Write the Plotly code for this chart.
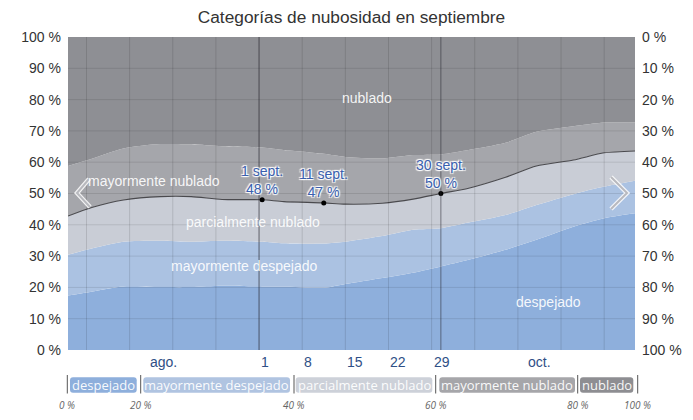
import numpy as np
import pandas as pd
import plotly.graph_objects as go

# ---------------- data ----------------
dates = ["2024-08-01", "2024-08-05", "2024-08-10", "2024-08-16", "2024-08-21",
         "2024-08-26", "2024-09-01 12:00", "2024-09-05", "2024-09-11 12:00",
         "2024-09-15", "2024-09-21", "2024-09-26", "2024-09-30 12:00",
         "2024-10-05", "2024-10-11", "2024-10-16", "2024-10-22", "2024-10-27",
         "2024-11-01"]

despejado = [17.4, 18.7, 20.3, 20.1, 20.1, 20.5, 20.3, 20.3, 19.9, 21.1, 23.0,
             24.7, 26.7, 28.8, 32.0, 35.2, 39.4, 42.1, 43.7]
mayormente_despejado = [13.0, 13.8, 14.3, 14.8, 14.5, 14.4, 14.3, 13.8, 14.1,
                        13.5, 13.4, 13.7, 12.2, 11.9, 11.1, 11.1, 10.4, 10.1, 10.4]
parcialmente_nublado = [12.4, 13.1, 13.3, 14.1, 14.4, 13.2, 13.4, 13.3, 13.0,
                        12.0, 10.5, 9.8, 11.1, 11.0, 12.1, 12.5, 10.9, 10.8, 9.5]
mayormente_nublado = [16.0, 15.6, 16.5, 16.8, 16.7, 17.0, 16.7, 16.5, 15.7, 15.1,
                      14.3, 14.1, 12.5, 12.2, 11.0, 10.9, 10.8, 9.7, 9.1]
nublado = [41.2, 38.8, 35.6, 34.2, 34.3, 34.9, 35.3, 36.1, 37.3, 38.3, 38.8,
           37.7, 37.5, 36.1, 33.8, 30.3, 28.5, 27.3, 27.3]

categories = ["despejado", "mayormente despejado", "parcialmente nublado",
              "mayormente nublado", "nublado"]
series = [despejado, mayormente_despejado, parcialmente_nublado,
          mayormente_nublado, nublado]

marker_dates = ["2024-09-01 12:00", "2024-09-11 12:00", "2024-09-30 12:00"]
marker_values = [48, 47, 50]
marker_labels = ["1 sept.", "11 sept.", "30 sept."]

y_ticks = list(range(0, 101, 10))
y_left_text = [f"{v} %" for v in y_ticks]
y_right_text = [f"{100 - v} %" for v in y_ticks]

day_tick_dates = ["2024-09-01", "2024-09-08", "2024-09-15", "2024-09-22", "2024-09-29"]
day_tick_text = ["1", "8", "15", "22", "29"]
month_tick_dates = ["2024-08-16 12:00", "2024-10-16 12:00"]
month_tick_text = ["ago.", "oct."]

legend_pct_text = ["0 %", "20 %", "40 %", "60 %", "80 %", "100 %"]

area_label_text = ["nublado", "mayormente nublado", "parcialmente nublado",
                   "mayormente despejado", "despejado"]
area_label_x = ["2024-09-18 12:00", "2024-08-14 22:00", "2024-08-31", "2024-08-29 14:00",
                "2024-10-18"]
area_label_y = [80.4, 54.1, 41.0, 26.9, 15.4]

# ---------------- styles ----------------
fill_colors = ["#8eafdc", "#abc2e2", "#c9cdd6", "#a5a6ab", "#8e8f94"]
legend_colors = ["#8eafdc", "#b0c4e1", "#cdd1d9", "#a6a6aa", "#8e8e92"]

W, H = 693, 420
L, R, T, B = 68, 58, 37, 70
PW, PH = W - L - R, H - T - B


def px(x):
    return (x - L) / PW


def py(y):
    return (H - B - y) / PH


fig = go.Figure()

for name, vals, col in zip(categories, series, fill_colors):
    fig.add_trace(go.Scatter(
        x=dates, y=vals, stackgroup="one", mode="lines",
        line=dict(width=0, color=col, shape="spline", smoothing=0.7),
        fillcolor=col, name=name, hoverinfo="skip", showlegend=False))

boundary = np.array(despejado) + np.array(mayormente_despejado) + np.array(parcialmente_nublado)
fig.add_trace(go.Scatter(x=dates, y=boundary, mode="lines",
                         line=dict(color="#4a4a4e", width=1.1, shape="spline", smoothing=0.7),
                         hoverinfo="skip", showlegend=False))

fig.add_trace(go.Scatter(x=marker_dates, y=marker_values, mode="markers",
                         marker=dict(color="black", size=5),
                         hoverinfo="skip", showlegend=False))

# dummy trace for right axis
fig.add_trace(go.Scatter(x=[dates[0]], y=[0], yaxis="y2", mode="markers",
                         marker=dict(opacity=0), hoverinfo="skip", showlegend=False))

shapes = []
for v in y_ticks[1:-1]:
    shapes.append(dict(type="line", xref="paper", yref="y", x0=0, x1=1, y0=v, y1=v,
                       line=dict(color="rgba(0,0,0,0.10)", width=1), layer="above"))
for d in pd.date_range("2024-08-04", "2024-10-27", freq="7D"):
    shapes.append(dict(type="line", xref="x", yref="paper", x0=d, x1=d, y0=0, y1=1,
                       line=dict(color="rgba(0,0,0,0.12)", width=1), layer="above"))
for d in ["2024-09-01", "2024-09-30 12:00"]:
    shapes.append(dict(type="line", xref="x", yref="paper", x0=d, x1=d, y0=0, y1=1,
                       line=dict(color="rgba(40,40,50,0.55)", width=1), layer="above"))


def chev(pts, color, width):
    path = "M " + " L ".join(f"{px(a):.5f},{py(b):.5f}" for a, b in pts)
    return dict(type="path", xref="paper", yref="paper", path=path,
                line=dict(color=color, width=width), layer="above")


left_chev = [(89, 179), (77, 193), (90, 207)]
right_chev = [(611, 177), (627, 193), (611, 209)]
for pts in (left_chev, right_chev):
    shapes.append(chev(pts, "rgba(255,255,255,0.85)", 4.5))
    shapes.append(chev(pts, "#b8b9be", 2))

legend_boxes = [(70, 136.7), (143.3, 290), (295.7, 432.3), (439.3, 575), (580, 633.3)]
legend_seps = [67.3, 140.7, 294, 435.7, 577.7, 637.7]
by0, by1 = 377.3, 392.7


def rounded_rect(x0, x1, y0, y1, r=3):
    X0, X1 = px(x0), px(x1)
    Y0, Y1 = py(y1), py(y0)
    rx, ry = r / PW, r / PH
    return (f"M {X0+rx},{Y0} L {X1-rx},{Y0} Q {X1},{Y0} {X1},{Y0+ry} "
            f"L {X1},{Y1-ry} Q {X1},{Y1} {X1-rx},{Y1} L {X0+rx},{Y1} "
            f"Q {X0},{Y1} {X0},{Y1-ry} L {X0},{Y0+ry} Q {X0},{Y0} {X0+rx},{Y0} Z")


for (x0, x1), col in zip(legend_boxes, legend_colors):
    shapes.append(dict(type="path", xref="paper", yref="paper",
                       path=rounded_rect(x0, x1, by0, by1), fillcolor=col,
                       line=dict(width=0)))
for s in legend_seps:
    shapes.append(dict(type="line", xref="paper", yref="paper",
                       x0=px(s), x1=px(s), y0=py(393.5), y1=py(375),
                       line=dict(color="#555555", width=1)))

annotations = []
halo = "1px 1px 1px white, -1px -1px 1px white, 1px -1px 1px white, -1px 1px 1px white"
for d, v, lab in zip(marker_dates, marker_values, marker_labels):
    annotations.append(dict(
        x=d, y=v, xref="x", yref="y", text=f"{lab}<br>{v} %", showarrow=False,
        yanchor="bottom", yshift=1,
        font=dict(family="Liberation Sans, Arial", size=14, color="#3a5fae", shadow=halo)))

for t, x, y in zip(area_label_text, area_label_x, area_label_y):
    annotations.append(dict(x=x, y=y, xref="x", yref="y", text=t, showarrow=False,
                            font=dict(family="Liberation Sans, Arial", size=14,
                                      color="rgba(255,255,255,0.92)")))

for d, t in zip(day_tick_dates, day_tick_text):
    annotations.append(dict(x=d, y=py(361.5), xref="x", yref="paper", text=t,
                            showarrow=False, xanchor="left", yanchor="middle",
                            font=dict(family="Liberation Sans, Arial", size=14,
                                      color="#2f4f86")))
for d, t in zip(month_tick_dates, month_tick_text):
    annotations.append(dict(x=d, y=py(361.5), xref="x", yref="paper", text=t,
                            showarrow=False, xanchor="center", yanchor="middle",
                            font=dict(family="Liberation Sans, Arial", size=14,
                                      color="#2f4f86")))

for (x0, x1), t in zip(legend_boxes, categories):
    annotations.append(dict(x=px((x0 + x1) / 2), y=py((by0 + by1) / 2),
                            xref="paper", yref="paper", text=t, showarrow=False,
                            xanchor="center", yanchor="middle",
                            font=dict(family="Open Sans, Liberation Sans", size=13,
                                      color="rgba(255,255,255,0.95)")))
for s, t in zip(legend_seps, legend_pct_text):
    annotations.append(dict(x=px(s), y=py(404.5), xref="paper", yref="paper",
                            text=f"<i>{t}</i>", showarrow=False,
                            xanchor="center", yanchor="middle",
                            font=dict(family="Open Sans, Liberation Sans", size=10,
                                      color="#666666")))

fig.update_layout(
    width=W, height=H,
    margin=dict(l=L, r=R, t=T, b=B, pad=0),
    paper_bgcolor="white", plot_bgcolor="white",
    title=dict(text="Categorías de nubosidad en septiembre",
               x=0.5, xref="paper", xanchor="center",
               y=1 - 17 / H, yref="container", yanchor="middle",
               font=dict(family="Liberation Sans, Arial", size=17.3, color="#333333")),
    xaxis=dict(range=["2024-08-01", "2024-11-01"], showgrid=False, zeroline=False,
               showticklabels=False, showline=False, ticks="", fixedrange=True),
    yaxis=dict(range=[0, 100], tickvals=y_ticks, ticktext=y_left_text,
               showgrid=False, zeroline=False, showline=False, ticks="",
               ticklabelstandoff=6,
               tickfont=dict(family="Liberation Sans, Arial", size=14, color="#333333")),
    yaxis2=dict(range=[0, 100], tickvals=y_ticks, ticktext=y_right_text,
                overlaying="y", side="right", anchor="x",
                showgrid=False, zeroline=False, showline=False, ticks="",
                ticklabelstandoff=6,
                tickfont=dict(family="Liberation Sans, Arial", size=14, color="#333333")),
    shapes=shapes,
    annotations=annotations,
    showlegend=False,
)

fig.write_html("out.html")
